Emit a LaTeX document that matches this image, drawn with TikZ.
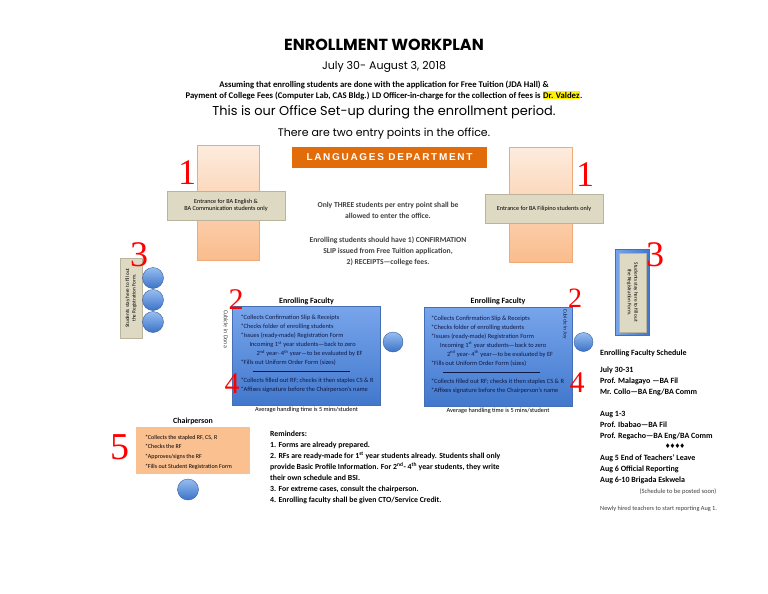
\documentclass[tikz,border=0pt]{standalone}
\usepackage{fontspec}
\setmainfont{Carlito}
\newfontfamily\gothic{Poppins}
\newfontfamily\deptfont[LetterSpace=17]{Liberation Sans}
\newfontfamily\numfont{Liberation Serif}
\newfontfamily\symfont{DejaVu Sans}
\usetikzlibrary{positioning}
\newcommand{\fsz}[2]{\fontsize{#1}{#2}\selectfont}
\definecolor{peachtop}{RGB}{253,236,222}
\definecolor{peachbot}{RGB}{250,188,140}
\definecolor{peachedge}{RGB}{240,170,120}
\definecolor{beige}{RGB}{221,217,195}
\definecolor{beigeedge}{RGB}{185,180,155}
\definecolor{deptorange}{RGB}{227,108,10}
\definecolor{boxtop}{RGB}{120,165,235}
\definecolor{boxbot}{RGB}{65,120,205}
\definecolor{boxedge}{RGB}{70,110,180}
\definecolor{dottop}{RGB}{150,190,240}
\definecolor{dotbot}{RGB}{60,115,200}
\definecolor{dotedge}{RGB}{55,95,160}
\definecolor{navy}{RGB}{15,25,70}
\definecolor{chairfill}{RGB}{250,192,144}
\definecolor{inktext}{RGB}{64,64,64}

\begin{document}
\begin{tikzpicture}[x=1pt,y=-1pt,
  redno/.style={text=red, font=\numfont\fsz{36}{36}, inner sep=0pt},
  entry/.style={draw=beigeedge, fill=beige, align=center, font=\fsz{6.2}{7.5}, inner sep=0pt},
  bluedot/.style={circle, draw=dotedge, top color=dottop, bottom color=dotbot, minimum size=21pt, inner sep=0pt},
  facbox/.style={draw=boxedge, top color=boxtop, bottom color=boxbot, minimum width=148pt, minimum height=99pt, inner sep=0pt},
  factext/.style={align=left, font=\fsz{6.4}{9}, text=navy, inner sep=0pt, anchor=north west},
  sched/.style={anchor=base west, inner sep=0pt, font=\bfseries\fsz{8}{11}}]
\fill[white] (0,0) rectangle (768,594);
\useasboundingbox (0,0) rectangle (768,594);

% heading
\node[anchor=base, inner sep=0pt, font=\gothic\bfseries\fsz{16}{16}] (title) at (384,51) {ENROLLMENT WORKPLAN};
\node[anchor=base, inner sep=0pt, font=\gothic\fsz{11}{11}] (dates) at (384,70) {July 30- August 3, 2018};
\node[anchor=base, inner sep=0pt, align=center, font=\bfseries\fsz{8.7}{11}] (assume) at (384,98)
  {Assuming that enrolling students are done with the application for Free Tuition (JDA Hall) \&\\
   Payment of College Fees (Computer Lab, CAS Bldg.) LD Officer-in-charge for the collection of fees is {\setlength\fboxsep{0.6pt}\colorbox{yellow}{Dr. Valdez}}.};
\node[anchor=base, inner sep=0pt, font=\gothic\fsz{12.9}{12.9}] (setup) at (384,115) {This is our Office Set-up during the enrollment period.};
\node[anchor=base, inner sep=0pt, font=\gothic\fsz{11}{11}] (entries) at (384,136) {There are two entry points in the office.};

% entry points
\shade[top color=peachtop, bottom color=peachbot, draw=peachedge] (197,145) rectangle (259,260);
\shade[top color=peachtop, bottom color=peachbot, draw=peachedge] (509,147) rectangle (572,262);
\node[fill=deptorange, text=white, font=\deptfont\bfseries\fsz{10}{10}, minimum width=195pt, minimum height=21pt, inner sep=0pt] (dept) at (389.5,157.5) {LANGUAGES DEPARTMENT};
\node[entry, minimum width=118pt, minimum height=29pt] (entryL) at (226,205.5) {Entrance for BA English \&\\BA Communication students only};
\node[entry, minimum width=118pt, minimum height=29pt] (entryR) at (544,208.5) {Entrance for BA Filipino students only};
\node[redno] (oneL) at (187,173) {1};
\node[redno] (oneR) at (585,175) {1};

\node[anchor=base, inner sep=0pt, align=center, text=inktext, font=\bfseries\fsz{7.6}{11}] (limit) at (388,218)
  {Only THREE students per entry point shall be\\allowed to enter the office.};
\node[anchor=base, inner sep=0pt, align=center, text=inktext, font=\bfseries\fsz{7.6}{11}] (needs) at (388,264)
  {Enrolling students should have 1) CONFIRMATION\\SLIP issued from Free Tuition application,\\2) RECEIPTS---college fees.};

% waiting areas
\node[entry, rotate=90, minimum width=80pt, minimum height=22pt, font=\fsz{5.2}{6.3}] (standL) at (131,298) {Students stay here to fill out\\the Registration Form.};
\node[bluedot] (waitA) at (153,278) {};
\node[bluedot] (waitB) at (153,300) {};
\node[bluedot] (waitC) at (153,322) {};
\node[redno] (threeL) at (139,255) {3};

\shade[left color=boxtop, right color=boxbot, draw=boxedge] (615,249) rectangle (649,335);
\node[entry, rotate=-90, minimum width=79pt, minimum height=27pt, font=\fsz{5.2}{6.3}] (standR) at (632.5,292.5) {Students stay here to fill out\\the Registration Form.};
\node[redno] (threeR) at (655,255) {3};

% enrolling faculty
\node[facbox] (facL) at (306.5,356) {};
\node[font=\bfseries\fsz{8}{8}, inner sep=0.5pt, above=1pt of facL] (facLhead) {Enrolling Faculty};
\node[factext] (facLtext) at ([shift={(8pt,-8.5pt)}]facL.north west)
  {*Collects Confirmation Slip \& Receipts\\
   *Checks folder of enrolling students\\
   *Issues (ready-made) Registration Form\\
   \hspace*{9pt}Incoming 1\textsuperscript{st} year students---back to zero\\
   \hspace*{16pt}2\textsuperscript{nd} year- 4\textsuperscript{th} year---to be evaluated by EF\\
   *Fills out Uniform Order Form (sizes)\\
   \hspace*{12pt}\rule[2pt]{97pt}{0.3pt}\\
   *Collects filled out RF; checks it then staples CS \& R\\
   *Affixes signature before the Chairperson's name};
\node[font=\fsz{6.3}{6.3}, inner sep=1pt, below=0.5pt of facL] (facLavg) {Average handling time is 5 mins/student};
\node[rotate=-90, inner sep=0pt, text=inktext, font=\fsz{6}{6}] (cubL) at (226,329) {Cubicle in Dona};
\node[bluedot, minimum size=20pt] (seatL) at (393,342) {};
\node[redno, font=\numfont\fsz{30}{30}] (twoL) at (236,300) {2};
\node[redno, font=\numfont\fsz{30}{30}] (fourL) at (232,384) {4};

\node[facbox] (facR) at (498,356.5) {};
\node[font=\bfseries\fsz{8}{8}, inner sep=0.5pt, above=1pt of facR] (facRhead) {Enrolling Faculty};
\node[factext] (facRtext) at ([shift={(7pt,-8.5pt)}]facR.north west)
  {*Collects Confirmation Slip \& Receipts\\
   *Checks folder of enrolling students\\
   *Issues (ready-made) Registration Form\\
   \hspace*{9pt}Incoming 1\textsuperscript{st} year students---back to zero\\
   \hspace*{16pt}2\textsuperscript{nd} year- 4\textsuperscript{th} year---to be evaluated by EF\\
   *Fills out Uniform Order Form (sizes)\\
   \hspace*{12pt}\rule[2pt]{97pt}{0.3pt}\\
   *Collects filled out RF; checks it then staples CS \& R\\
   *Affixes signature before the Chairperson's name};
\node[font=\fsz{6.3}{6.3}, inner sep=1pt, below=0.5pt of facR] (facRavg) {Average handling time is 5 mins/student};
\node[rotate=-90, inner sep=0pt, text=navy, font=\fsz{5.4}{5.4}] (cubR) at (565,324) {Cubicle in Joy};
\node[bluedot, minimum size=19pt] (seatR) at (583.5,342) {};
\node[redno, font=\numfont\fsz{28}{28}] (twoR) at (575,298) {2};
\node[redno, font=\numfont\fsz{30}{30}] (fourR) at (577,383) {4};

% chairperson
\node[fill=chairfill, minimum width=114pt, minimum height=47pt, inner sep=0pt] (chair) at (193,450.5) {};
\node[font=\bfseries\fsz{7.9}{7.9}, inner sep=0.5pt, above=1pt of chair] (chairhead) {Chairperson};
\node[factext, text=black, font=\fsz{6}{9.6}] (chairtext) at ([shift={(9pt,-8pt)}]chair.north west)
  {*Collects the stapled RF, CS, R\\
   *Checks the RF\\
   *Approves/signs the RF\\
   *Fills out Student Registration Form};
\node[bluedot] (chairseat) at (188,489.5) {};
\node[redno, font=\numfont\fsz{38}{38}] (five) at (120,447) {5};

% reminders
\node[anchor=north west, inner sep=0pt, align=left, font=\bfseries\fsz{7.8}{11}] (remind) at (270,431)
  {Reminders:\\
   1. Forms are already prepared.\\
   2. RFs are ready-made for 1\textsuperscript{st} year students already. Students shall only\\
   provide Basic Profile Information. For 2\textsuperscript{nd}- 4\textsuperscript{th} year students, they write\\
   their own schedule and BSI.\\
   3. For extreme cases, consult the chairperson.\\
   4. Enrolling faculty shall be given CTO/Service Credit.};

% schedule
\node[sched] (schedhead) at (600,355.5) {Enrolling Faculty Schedule};
\node[sched, align=left] (schedA) at (600,394.5)
  {July 30-31\\
   Prof. Malagayo ---BA Fil\\
   Mr. Collo---BA Eng/BA Comm};
\node[sched, align=left] (schedB) at (600,438.5)
  {Aug 1-3\\
   Prof. Ibabao---BA Fil\\
   Prof. Regacho---BA Eng/BA Comm};
\node[anchor=base, inner sep=0pt, font=\symfont\fsz{6.5}{6.5}] (gems) at (675,448.5) {♦\kern-1pt♦\kern-1pt♦\kern-1pt♦};
\node[sched, align=left] (schedC) at (600,482.5)
  {Aug 5 End of Teachers' Leave\\
   Aug 6 Official Reporting\\
   Aug 6-10 Brigada Eskwela};
\node[anchor=base, inner sep=0pt, text=inktext, font=\fsz{6.5}{6.5}] (posted) at (678,493.5) {(Schedule to be posted soon)};
\node[anchor=base west, inner sep=0pt, text=inktext, font=\fsz{6.3}{6.3}] (newhires) at (600,510) {Newly hired teachers to start reporting Aug 1.};
\end{tikzpicture}
\end{document}
